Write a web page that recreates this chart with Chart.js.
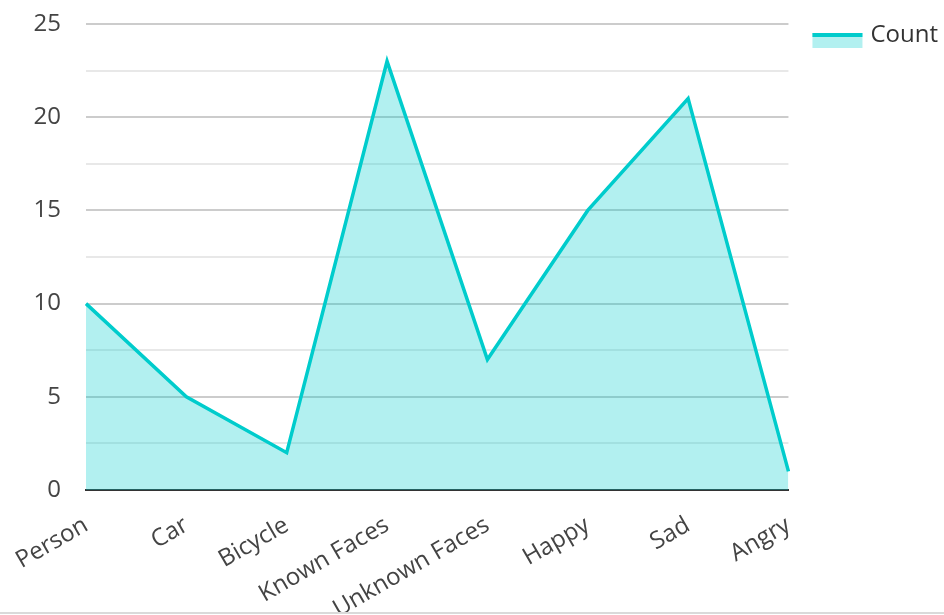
<!DOCTYPE html>
<html lang="en">

<head>
    <meta charset="UTF-8">
    <meta name="viewport" content="width=device-width, initial-scale=1.0">
    <title>Count</title>
    <script src="https://cdn.jsdelivr.net/npm/chart.js"></script>
    <style>
        body {
            margin: 0;
            background: #fff;
        }

        .container-grafico {
            position: relative;
            width: 944px;
            height: 612px;
            border-bottom: 2px solid #dadada;
        }
    </style>
</head>

<body>
    <div class="container-grafico">
        <canvas id="grafico"></canvas>
    </div>
    <script>
        const categorias = ['Person', 'Car', 'Bicycle', 'Known Faces', 'Unknown Faces', 'Happy', 'Sad', 'Angry'];
        const contagem = [10, 5, 2, 23, 7, 15, 21, 1];
        const nomeSerie = 'Count';
        const ticksY = [0, 5, 10, 15, 20, 25];
        const passoMenor = 2.5;

        const corLinha = 'rgb(0, 204, 204)';
        const corArea = 'rgba(0, 204, 204, 0.3)';
        const fonte = { family: "'Open Sans', 'Noto Sans', sans-serif", size: 24 };

        // caixinha da legenda: faixa escura em cima, área clara embaixo
        const legendaCaixa = {
            id: 'legendaCaixa',
            afterDraw(chart) {
                const hb = chart.legend && chart.legend.legendHitBoxes[0];
                if (!hb) return;
                const ctx = chart.ctx;
                const topo = hb.top + 10;
                ctx.save();
                ctx.fillStyle = corArea;
                ctx.fillRect(hb.left, topo, 50, 15);
                ctx.fillStyle = corLinha;
                ctx.fillRect(hb.left, topo, 50, 4);
                ctx.restore();
            }
        };

        new Chart(document.getElementById('grafico'), {
            type: 'line',
            data: {
                labels: categorias,
                datasets: [{
                    label: nomeSerie,
                    data: contagem,
                    borderColor: corLinha,
                    backgroundColor: corArea,
                    borderWidth: 3.5,
                    fill: 'origin',
                    tension: 0,
                    pointRadius: 0,
                    pointHoverRadius: 0
                }]
            },
            options: {
                responsive: true,
                maintainAspectRatio: false,
                animation: false,
                layout: {
                    padding: { top: -1, right: -4, bottom: 0, left: 0 }
                },
                plugins: {
                    tooltip: { enabled: false },
                    legend: {
                        position: 'right',
                        align: 'start',
                        labels: {
                            boxWidth: 46,
                            boxHeight: 14,
                            padding: 24,
                            color: '#333',
                            font: fonte,
                            generateLabels(chart) {
                                return Chart.defaults.plugins.legend.labels.generateLabels(chart).map(item => {
                                    item.fillStyle = 'rgba(0,0,0,0)';
                                    item.strokeStyle = 'rgba(0,0,0,0)';
                                    item.lineWidth = 0;
                                    return item;
                                });
                            }
                        }
                    }
                },
                scales: {
                    x: {
                        offset: false,
                        border: { display: true, color: '#333', width: 2 },
                        grid: { display: false },
                        ticks: {
                            color: '#444',
                            font: fonte,
                            minRotation: 30,
                            maxRotation: 30,
                            autoSkip: false,
                            padding: 13
                        },
                        afterFit(scale) {
                            scale.height = 122;
                        }
                    },
                    y: {
                        min: ticksY[0],
                        max: ticksY[ticksY.length - 1],
                        border: { display: false },
                        grid: {
                            drawTicks: false,
                            lineWidth: 2,
                            color: (c) => ticksY.includes(c.tick.value) ? '#cccccc' : '#e8e8e8'
                        },
                        ticks: {
                            stepSize: passoMenor,
                            color: '#444',
                            font: fonte,
                            padding: 25,
                            callback: (valor) => ticksY.includes(valor) ? valor : ''
                        },
                        afterFit(scale) {
                            scale.width = 86;
                            scale.paddingTop = 24;
                        }
                    }
                }
            },
            plugins: [legendaCaixa]
        });
    </script>
</body>

</html>
